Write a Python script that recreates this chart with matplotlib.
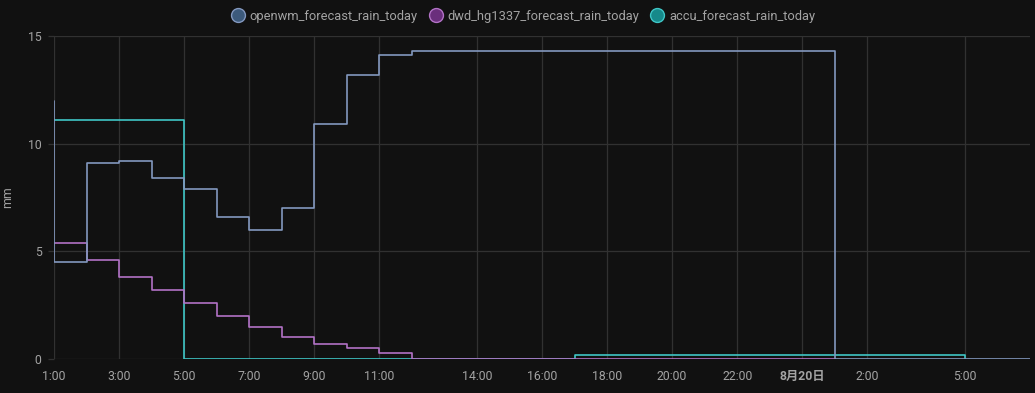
import matplotlib
matplotlib.use("Agg")
import matplotlib.pyplot as plt
import matplotlib.dates as mdates
from matplotlib.lines import Line2D
from datetime import datetime

plt.rcParams["font.family"] = ["Roboto", "Noto Sans CJK SC", "DejaVu Sans"]

# 时间点 (8月19日 - 8月20日)
def t(day, hour):
    return datetime(2023, 8, day, hour)

openwm_times = [t(19, 0), t(19, 1), t(19, 2), t(19, 3), t(19, 4), t(19, 5), t(19, 6), t(19, 7),
                t(19, 8), t(19, 9), t(19, 10), t(19, 11), t(19, 12), t(20, 1), t(20, 7)]
openwm_values = [12.0, 4.5, 9.1, 9.2, 8.4, 7.9, 6.6, 6.0, 7.0, 10.9, 13.2, 14.1, 14.3, 0.0, 0.0]

dwd_times = [t(19, 1), t(19, 2), t(19, 3), t(19, 4), t(19, 5), t(19, 6), t(19, 7), t(19, 8),
             t(19, 9), t(19, 10), t(19, 11), t(19, 12), t(20, 1)]
dwd_values = [5.4, 4.6, 3.8, 3.2, 2.6, 2.0, 1.5, 1.0, 0.7, 0.5, 0.3, 0.0, 0.0]

accu_times = [t(19, 1), t(19, 5), t(19, 17), t(20, 5)]
accu_values = [11.1, 0.0, 0.2, 0.0]

tick_times = [t(19, 1), t(19, 3), t(19, 5), t(19, 7), t(19, 9), t(19, 11), t(19, 14), t(19, 16),
              t(19, 18), t(19, 20), t(19, 22), t(20, 0), t(20, 2), t(20, 5)]
tick_labels = ['1:00', '3:00', '5:00', '7:00', '9:00', '11:00', '14:00', '16:00',
               '18:00', '20:00', '22:00', '8月20日', '2:00', '5:00']

series_names = ['openwm_forecast_rain_today', 'dwd_hg1337_forecast_rain_today', 'accu_forecast_rain_today']
line_colors = ['#8398bf', '#b272c6', '#3fc6c6']
fill_colors = ['#3c5a7c', '#6a2e7c', '#16898a']

bg = '#111111'
text_color = '#a3a3a3'
grid_color = '#313131'

fig = plt.figure(figsize=(10.35, 3.93), dpi=100, facecolor=bg)
ax = fig.add_axes([54 / 1035, 1 - 359 / 393, 976 / 1035, 323 / 393])
ax.set_facecolor(bg)

ax.step(accu_times, accu_values, where='post', color=line_colors[2], lw=1.2, zorder=3)
ax.step(dwd_times, dwd_values, where='post', color=line_colors[1], lw=1.2, zorder=4)
ax.step(openwm_times, openwm_values, where='post', color=line_colors[0], lw=1.2, zorder=5)

ax.set_xlim(t(19, 1), t(20, 7))
ax.set_ylim(0, 15)
ax.set_yticks([0, 5, 10, 15])
ax.set_xticks(tick_times)
ax.set_xticklabels(tick_labels)
for lbl in ax.get_xticklabels():
    if lbl.get_text() == '8月20日':
        lbl.set_fontweight('bold')
        lbl.set_color('#b0b0b0')

ax.grid(True, color=grid_color, lw=0.9)
ax.set_axisbelow(True)
for s in ax.spines.values():
    s.set_visible(False)
ax.tick_params(axis='x', length=0, pad=8, colors=text_color, labelsize=8.8)
ax.tick_params(axis='y', length=4, width=0.9, color=grid_color, pad=5, colors=text_color, labelsize=8.8)
ax.set_ylabel('mm', color=text_color, fontsize=8.8, labelpad=10)

handles = [Line2D([], [], linestyle='none', marker='o', markersize=10,
                  markerfacecolor=fill_colors[i], markeredgecolor=line_colors[i], markeredgewidth=1.0)
           for i in range(3)]
leg = fig.legend(handles, series_names, loc='upper center', bbox_to_anchor=(0.505, 1.005), ncol=3,
                 frameon=False, fontsize=9.3, handletextpad=0.3, columnspacing=0.8, handlelength=1.2)
for txt in leg.get_texts():
    txt.set_color(text_color)

plt.savefig('out.png', dpi=100, facecolor=bg)
